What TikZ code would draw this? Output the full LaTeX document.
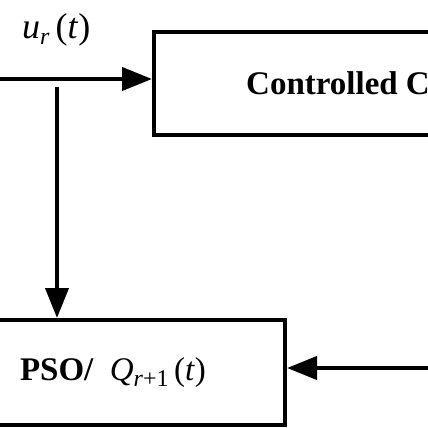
\documentclass[tikz,border=0pt]{standalone}
\usepackage{fontspec}
\setmainfont{Liberation Serif}
\usetikzlibrary{positioning, calc, arrows.meta}

\tikzset{
  block/.style={draw, line width=4pt, rectangle, inner sep=0pt, font=\fontsize{33}{40}\selectfont\bfseries},
  conn/.style={line width=4pt, -{Triangle[length=30pt,width=23pt]}},
  sig/.style={inner sep=0pt, font=\fontsize{36}{42}\selectfont}
}
\newcommand{\lowsub}[1]{\raisebox{-6pt}{\fontsize{24}{28}\selectfont #1}}

\begin{document}
\begin{tikzpicture}[x=1pt,y=-1pt]
  \useasboundingbox (0,0) rectangle (428,428);
  \clip (0,0) rectangle (428,428);

  % Blocks
  \node[block, anchor=north west, minimum width=368pt, minimum height=103pt] (plant) at (152,30) {Controlled C};
  \node[block, anchor=north east, minimum width=344pt, minimum height=105pt] (pso) at (287,318)
    {PSO/\hspace{0.5em}{\normalfont\textit{Q}\lowsub{\textit{r}+1}\,(\textit{t})}};

  % Signals
  \coordinate (in) at (0,79);
  \coordinate (tap) at (57,87);
  \coordinate (fb) at (428,368);
  \node[sig, anchor=base west] (ulabel) at (22,38) {\textit{u}\lowsub{\textit{r}}\,(\textit{t})};

  \draw[conn] (in) -- (in -| plant.west);
  \draw[conn] (tap) -- (tap |- pso.north);
  \draw[conn] (fb) -- (fb -| pso.east);
\end{tikzpicture}
\end{document}
